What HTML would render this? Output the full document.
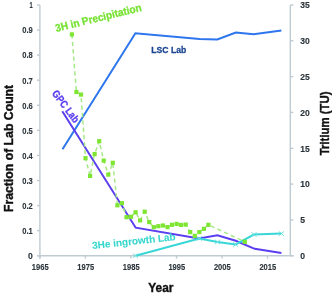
<!DOCTYPE html>
<html><head><meta charset="utf-8"><style>
html,body{margin:0;padding:0;background:#fff;width:332px;height:294px;overflow:hidden}
svg{display:block;will-change:transform;filter:blur(0.25px)}
</style></head><body>
<svg width="332" height="294" viewBox="0 0 332 294">
<g stroke="#bfcbd2" stroke-width="1.4" fill="none">
<path d="M39.9,5 V258.8 M37,255.7 H293.6 M290.3,5 V255.7"/>
<path d="M37,255.7 H39.9"/>
<path d="M37,230.6 H39.9"/>
<path d="M37,205.6 H39.9"/>
<path d="M37,180.5 H39.9"/>
<path d="M37,155.4 H39.9"/>
<path d="M37,130.3 H39.9"/>
<path d="M37,105.3 H39.9"/>
<path d="M37,80.2 H39.9"/>
<path d="M37,55.1 H39.9"/>
<path d="M37,30.1 H39.9"/>
<path d="M37,5.0 H39.9"/>
<path d="M290.3,255.7 H293.4"/>
<path d="M290.3,219.9 H293.4"/>
<path d="M290.3,184.1 H293.4"/>
<path d="M290.3,148.3 H293.4"/>
<path d="M290.3,112.4 H293.4"/>
<path d="M290.3,76.6 H293.4"/>
<path d="M290.3,40.8 H293.4"/>
<path d="M290.3,5.0 H293.4"/>
<path d="M39.9,255.7 V258.6"/>
<path d="M85.4,255.7 V258.6"/>
<path d="M130.9,255.7 V258.6"/>
<path d="M176.5,255.7 V258.6"/>
<path d="M222.0,255.7 V258.6"/>
<path d="M267.5,255.7 V258.6"/>
</g>
<g font-family="Liberation Sans" font-weight="bold" font-size="9.8" fill="#2c353b" stroke="#2c353b" stroke-width="0.15">
<text x="27.9" y="259.0" textLength="4.8" lengthAdjust="spacingAndGlyphs">0</text>
<text x="22.2" y="233.9" textLength="10.5" lengthAdjust="spacingAndGlyphs">0.1</text>
<text x="22.2" y="208.9" textLength="10.5" lengthAdjust="spacingAndGlyphs">0.2</text>
<text x="22.2" y="183.8" textLength="10.5" lengthAdjust="spacingAndGlyphs">0.3</text>
<text x="22.2" y="158.7" textLength="10.5" lengthAdjust="spacingAndGlyphs">0.4</text>
<text x="22.2" y="133.7" textLength="10.5" lengthAdjust="spacingAndGlyphs">0.5</text>
<text x="22.2" y="108.6" textLength="10.5" lengthAdjust="spacingAndGlyphs">0.6</text>
<text x="22.2" y="83.5" textLength="10.5" lengthAdjust="spacingAndGlyphs">0.7</text>
<text x="22.2" y="58.4" textLength="10.5" lengthAdjust="spacingAndGlyphs">0.8</text>
<text x="22.2" y="33.4" textLength="10.5" lengthAdjust="spacingAndGlyphs">0.9</text>
<text x="29.5" y="8.3" textLength="3.2" lengthAdjust="spacingAndGlyphs">1</text>
<text x="300.2" y="259.0" textLength="4.8" lengthAdjust="spacingAndGlyphs">0</text>
<text x="300.2" y="223.2" textLength="4.8" lengthAdjust="spacingAndGlyphs">5</text>
<text x="300.2" y="187.4" textLength="9.5" lengthAdjust="spacingAndGlyphs">10</text>
<text x="300.2" y="151.6" textLength="9.5" lengthAdjust="spacingAndGlyphs">15</text>
<text x="300.2" y="115.7" textLength="9.5" lengthAdjust="spacingAndGlyphs">20</text>
<text x="300.2" y="79.9" textLength="9.5" lengthAdjust="spacingAndGlyphs">25</text>
<text x="300.2" y="44.1" textLength="9.5" lengthAdjust="spacingAndGlyphs">30</text>
<text x="300.2" y="8.3" textLength="9.5" lengthAdjust="spacingAndGlyphs">35</text>
<text x="31.8" y="270.1" textLength="16.8" lengthAdjust="spacingAndGlyphs">1965</text>
<text x="77.3" y="270.1" textLength="16.8" lengthAdjust="spacingAndGlyphs">1975</text>
<text x="122.8" y="270.1" textLength="16.8" lengthAdjust="spacingAndGlyphs">1985</text>
<text x="168.4" y="270.1" textLength="16.8" lengthAdjust="spacingAndGlyphs">1995</text>
<text x="213.9" y="270.1" textLength="16.8" lengthAdjust="spacingAndGlyphs">2005</text>
<text x="259.4" y="270.1" textLength="16.8" lengthAdjust="spacingAndGlyphs">2015</text>
</g>
<g font-family="Liberation Sans" font-weight="bold" font-size="13.2" fill="#111" stroke="#111" stroke-width="0.4">
<text transform="translate(12.6,212.1) rotate(-90)" textLength="127.3" lengthAdjust="spacingAndGlyphs">Fraction of Lab Count</text>
<text transform="translate(328.5,155.3) rotate(-90)" textLength="63.8" lengthAdjust="spacingAndGlyphs">Tritium (TU)</text>
<text x="148.3" y="291.5" textLength="25.1" lengthAdjust="spacingAndGlyphs">Year</text>
</g>
<polyline points="62.5,149.3 135.4,33.2 199.5,39.0 217.3,39.5 235.8,32.5 253.6,34.2 281.4,30.6" fill="none" stroke="#2e76ee" stroke-width="2"/>
<polyline points="62.3,111.2 135.7,227.7 199.1,238.4 217.4,235.2 235.7,240.8 254.7,248.8 281.4,252.9" fill="none" stroke="#5b3ef0" stroke-width="2"/>
<polyline points="135.5,255.7 199.3,238.5 217.5,242.0 235.6,244.5 254.0,234.5 281.4,233.6" fill="none" stroke="#38d6d6" stroke-width="2"/>
<path d="M132.9,253.5 L138.1,257.9 M132.9,257.9 L138.1,253.5" stroke="#6ee0e0" stroke-width="1"/>
<path d="M196.7,236.3 L201.9,240.7 M196.7,240.7 L201.9,236.3" stroke="#6ee0e0" stroke-width="1"/>
<path d="M214.9,239.8 L220.1,244.2 M214.9,244.2 L220.1,239.8" stroke="#6ee0e0" stroke-width="1"/>
<path d="M233.0,242.3 L238.2,246.7 M233.0,246.7 L238.2,242.3" stroke="#6ee0e0" stroke-width="1"/>
<path d="M251.4,232.3 L256.6,236.7 M251.4,236.7 L256.6,232.3" stroke="#6ee0e0" stroke-width="1"/>
<path d="M278.8,231.4 L284.0,235.8 M278.8,235.8 L284.0,231.4" stroke="#6ee0e0" stroke-width="1"/>
<polyline points="71.9,34.4 76.4,92.0 81.0,94.6 85.5,158.2 90.1,175.9 94.6,154.1 99.2,141.2 103.7,160.6 108.3,174.6 112.8,162.8 117.4,205.3 121.9,203.2 126.5,217.2 131.0,216.8 135.6,212.3 140.1,220.4 144.7,211.7 149.2,222.1 153.8,227.2 158.4,226.2 162.9,225.5 167.5,227.1 172.0,224.8 176.6,223.9 181.1,224.9 185.7,224.6 190.2,232.1 194.8,235.9 199.3,232.1 203.9,228.8 208.4,224.8 244.8,241.8" fill="none" stroke="#a6e888" stroke-width="1.5" stroke-dasharray="4.2,3.2"/>
<rect x="69.8" y="32.3" width="4.2" height="4.2" fill="#7ee632"/>
<rect x="74.3" y="89.9" width="4.2" height="4.2" fill="#7ee632"/>
<rect x="78.9" y="92.5" width="4.2" height="4.2" fill="#7ee632"/>
<rect x="83.4" y="156.1" width="4.2" height="4.2" fill="#7ee632"/>
<rect x="88.0" y="173.8" width="4.2" height="4.2" fill="#7ee632"/>
<rect x="92.5" y="152.0" width="4.2" height="4.2" fill="#7ee632"/>
<rect x="97.1" y="139.1" width="4.2" height="4.2" fill="#7ee632"/>
<rect x="101.6" y="158.5" width="4.2" height="4.2" fill="#7ee632"/>
<rect x="106.2" y="172.5" width="4.2" height="4.2" fill="#7ee632"/>
<rect x="110.7" y="160.7" width="4.2" height="4.2" fill="#7ee632"/>
<rect x="115.3" y="203.2" width="4.2" height="4.2" fill="#7ee632"/>
<rect x="119.8" y="201.1" width="4.2" height="4.2" fill="#7ee632"/>
<rect x="124.4" y="215.1" width="4.2" height="4.2" fill="#7ee632"/>
<rect x="128.9" y="214.7" width="4.2" height="4.2" fill="#7ee632"/>
<rect x="133.5" y="210.2" width="4.2" height="4.2" fill="#7ee632"/>
<rect x="138.0" y="218.3" width="4.2" height="4.2" fill="#7ee632"/>
<rect x="142.6" y="209.6" width="4.2" height="4.2" fill="#7ee632"/>
<rect x="147.1" y="220.0" width="4.2" height="4.2" fill="#7ee632"/>
<rect x="151.7" y="225.1" width="4.2" height="4.2" fill="#7ee632"/>
<rect x="156.3" y="224.1" width="4.2" height="4.2" fill="#7ee632"/>
<rect x="160.8" y="223.4" width="4.2" height="4.2" fill="#7ee632"/>
<rect x="165.4" y="225.0" width="4.2" height="4.2" fill="#7ee632"/>
<rect x="169.9" y="222.7" width="4.2" height="4.2" fill="#7ee632"/>
<rect x="174.5" y="221.8" width="4.2" height="4.2" fill="#7ee632"/>
<rect x="179.0" y="222.8" width="4.2" height="4.2" fill="#7ee632"/>
<rect x="183.6" y="222.5" width="4.2" height="4.2" fill="#7ee632"/>
<rect x="188.1" y="230.0" width="4.2" height="4.2" fill="#7ee632"/>
<rect x="192.7" y="233.8" width="4.2" height="4.2" fill="#7ee632"/>
<rect x="197.2" y="230.0" width="4.2" height="4.2" fill="#7ee632"/>
<rect x="201.8" y="226.7" width="4.2" height="4.2" fill="#7ee632"/>
<rect x="206.3" y="222.7" width="4.2" height="4.2" fill="#7ee632"/>
<rect x="242.7" y="239.7" width="4.2" height="4.2" fill="#7ee632"/>
<text x="151.3" y="53.3" font-family="Liberation Sans" font-weight="bold" font-size="9.4" textLength="35" lengthAdjust="spacingAndGlyphs" fill="#1c4592" stroke="#1c4592" stroke-width="0.3">LSC Lab</text>
<text transform="translate(56.2,31.9) rotate(-13.8)" font-family="Liberation Sans" font-weight="bold" font-size="10.8" textLength="88.5" lengthAdjust="spacingAndGlyphs" fill="#78e234" stroke="#78e234" stroke-width="0.3">3H in Precipitation</text>
<text transform="translate(92.5,249.1) rotate(-6.2)" font-family="Liberation Sans" font-weight="bold" font-size="10" fill="#36d6cc" stroke="#36d6cc" stroke-width="0.1">3He ingrowth Lab</text>
<text transform="translate(51.6,93.6) rotate(53)" font-family="Liberation Sans" font-weight="bold" font-size="10.5" stroke="#5b3ef0" stroke-width="0.3" textLength="37.5" lengthAdjust="spacingAndGlyphs" fill="#5b3ef0">GPC Lab</text>
</svg></body></html>
